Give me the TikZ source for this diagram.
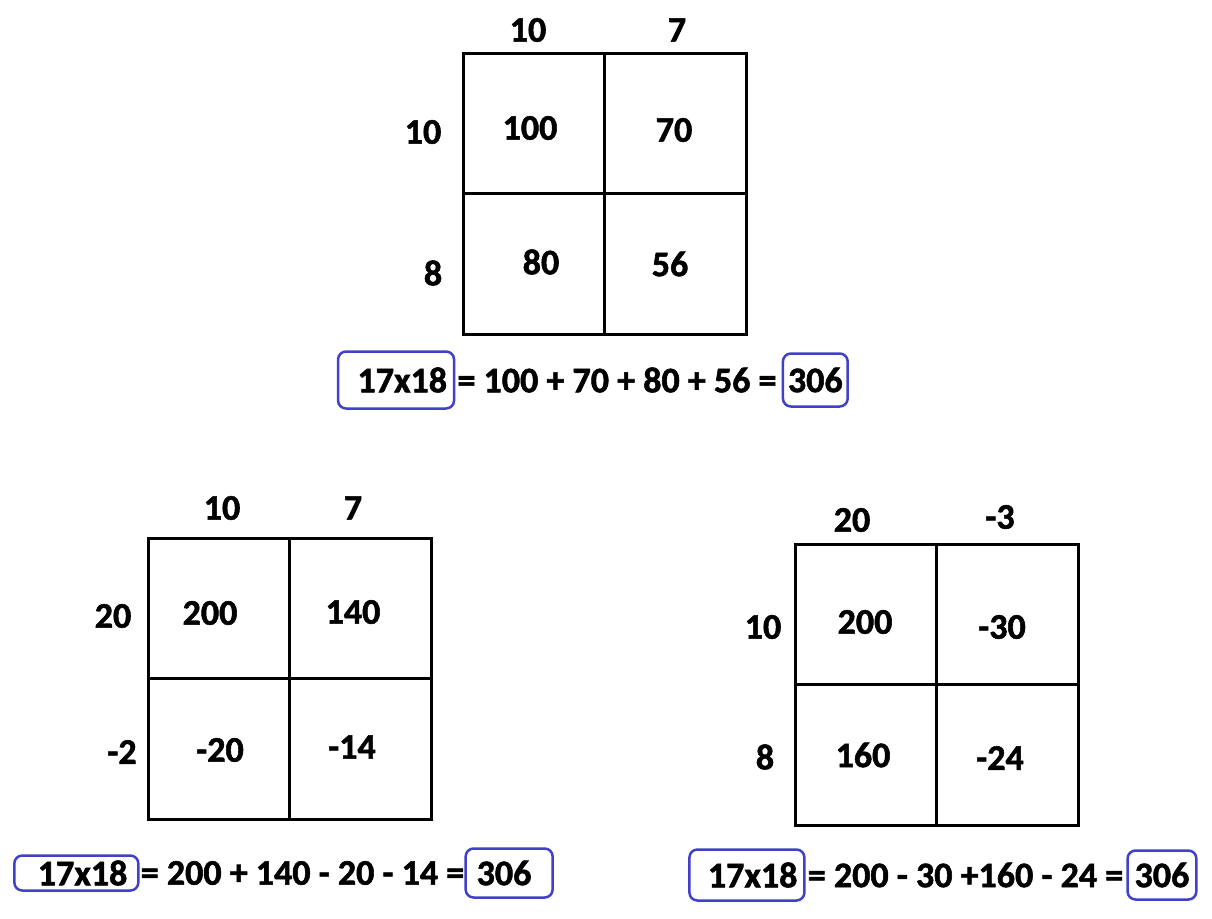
\documentclass[tikz,border=0pt]{standalone}
\usepackage{fontspec}
\setmainfont{Carlito}[BoldFont={Carlito Bold}, BoldFeatures={FakeBold=1.5}]
\usepackage{tikz}
\usetikzlibrary{positioning}
\definecolor{boxblue}{RGB}{64,64,200}

\begin{document}
\begin{tikzpicture}[x=1pt,y=-1pt,
    num/.style={font=\fontsize{36}{40}\selectfont\bfseries, inner sep=0pt},
    cell/.style={line width=3pt},
    eqbox/.style={draw=boxblue, line width=2.5pt, rounded corners=8pt}]
    \useasboundingbox (0,0) rectangle (1212,918);

    % top: (10+7)(10+8)
    \draw[cell] (463,53) rectangle (746,334);
    \draw[cell] (604,53) -- (604,334);
    \draw[cell] (463,193) -- (746,193);
    \node[num] (tcolA) at (528,30) {10};
    \node[num] (tcolB) at (677,30) {7};
    \node[num] (trowA) at (423,132) {10};
    \node[num] (trowB) at (433,273) {8};
    \node[num] (tAA) at (530,128) {100};
    \node[num] (tBA) at (674,130) {70};
    \node[num] (tAB) at (541,262) {80};
    \node[num] (tBB) at (670,264) {56};
    \node[num] (teq) at (617,380) {= 100 + 70 + 80 + 56 =};
    \node[num, eqbox, inner xsep=7pt, text width=102pt, minimum height=57pt, align=right, left=2pt of teq] (tlhs) {17x18};
    \node[num, eqbox, inner xsep=5pt, minimum height=53pt, right=5pt of teq] (trhs) {306};

    % bottom left: (10+7)(20-2)
    \draw[cell] (148,538) rectangle (431,819);
    \draw[cell] (289,538) -- (289,819);
    \draw[cell] (148,678) -- (431,678);
    \node[num] (lcolA) at (222,508) {10};
    \node[num] (lcolB) at (353,508) {7};
    \node[num] (lrowA) at (113,616) {20};
    \node[num] (lrowB) at (122,752) {-2};
    \node[num] (lAA) at (210,613) {200};
    \node[num] (lBA) at (353,612) {140};
    \node[num] (lAB) at (220,750) {-20};
    \node[num] (lBB) at (352,747) {-14};
    \node[num] (leq) at (302.5,873) {= 200 + 140 - 20 - 14 =};
    \node[num, eqbox, inner xsep=11pt, text width=102pt, minimum height=35pt, align=right, left=1pt of leq] (llhs) {17x18};
    \node[num, eqbox, inner xsep=11pt, text width=65pt, minimum height=49pt, align=left, right=0pt of leq] (lrhs) {306};

    % bottom right: (20-3)(10+8)
    \draw[cell] (795,544) rectangle (1078,825);
    \draw[cell] (936,544) -- (936,825);
    \draw[cell] (795,684) -- (1078,684);
    \node[num] (rcolA) at (852,520) {20};
    \node[num] (rcolB) at (1000,517) {-3};
    \node[num] (rrowA) at (763,627) {10};
    \node[num] (rrowB) at (765,757) {8};
    \node[num] (rAA) at (865,622) {200};
    \node[num] (rBA) at (1002,627) {-30};
    \node[num] (rAB) at (863,755) {160};
    \node[num] (rBB) at (1000,758) {-24};
    \node[num] (req) at (965.5,875) {= 200 - 30 +160 - 24 =};
    \node[num, eqbox, inner xsep=7pt, text width=101pt, minimum height=51pt, align=right, left=2pt of req] (rlhs) {17x18};
    \node[num, eqbox, inner xsep=7pt, minimum height=49pt, right=3pt of req] (rrhs) {306};
\end{tikzpicture}
\end{document}
